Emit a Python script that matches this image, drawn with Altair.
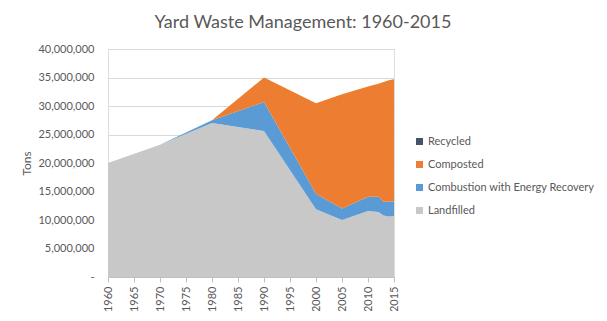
import altair as alt
import pandas as pd

years = [1960, 1970, 1980, 1990, 2000, 2005, 2010, 2012, 2013, 2014, 2015]
landfilled = [20000000, 23200000, 27000000, 25600000, 11900000, 10000000, 11600000, 11400000, 10800000, 10600000, 10700000]
combustion = [0, 0, 500000, 5100000, 2700000, 2000000, 2500000, 2700000, 2400000, 2600000, 2600000]
composted = [0, 0, 0, 4300000, 15900000, 20050000, 19300000, 19800000, 21000000, 21300000, 21400000]
recycled = [0, 0, 0, 0, 0, 0, 0, 0, 0, 0, 0]

series = ["Recycled", "Composted", "Combustion with Energy Recovery", "Landfilled"]
colors = ["#44546a", "#ed7d31", "#5b9bd5", "#c8c8c8"]
tick_years = [1960, 1965, 1970, 1975, 1980, 1985, 1990, 1995, 2000, 2005, 2010, 2015]

rows = []
for name, vals, idx in [("Landfilled", landfilled, 0), ("Combustion with Energy Recovery", combustion, 1),
                        ("Composted", composted, 2), ("Recycled", recycled, 3)]:
    for y, v in zip(years, vals):
        rows.append({"Year": y, "Series": name, "Tons": v, "idx": idx})
df = pd.DataFrame(rows)

FONT = "Lato"
GRAY = "#595959"

chart = alt.Chart(df).mark_area().encode(
    x=alt.X("Year:Q", scale=alt.Scale(domain=[1960, 2015], nice=False, zero=False),
            axis=alt.Axis(values=tick_years, format="d", title=None, labelAngle=-90,
                          labelAlign="right", labelBaseline="middle", labelPadding=4,
                          tickSize=5, tickColor="#bfbfbf", domainColor="#bfbfbf",
                          grid=False, labelColor=GRAY, labelFontSize=11, labelFont=FONT)),
    y=alt.Y("Tons:Q", stack="zero", scale=alt.Scale(domain=[0, 40000000], nice=False),
            axis=alt.Axis(values=[0, 5000000, 10000000, 15000000, 20000000, 25000000,
                                  30000000, 35000000, 40000000],
                          labelExpr="datum.value == 0 ? '-' : format(datum.value, ',')",
                          title="Tons", titleFont=FONT, titleFontSize=12, titleColor=GRAY,
                          titleFontWeight="normal", titlePadding=4,
                          domain=False, ticks=False, labelPadding=14, gridColor="#d9d9d9",
                          labelColor=GRAY, labelFontSize=11, labelFont=FONT)),
    color=alt.Color("Series:N", scale=alt.Scale(domain=series, range=colors),
                    legend=alt.Legend(title=None, orient="none", legendX=306, legendY=87,
                                      symbolType="square", symbolSize=49, symbolStrokeWidth=0,
                                      labelFont=FONT, labelFontSize=11, labelColor=GRAY,
                                      labelLimit=400,
                                      rowPadding=11, padding=0, labelOffset=3)),
    order=alt.Order("idx:Q", sort="ascending"),
).properties(
    width=286, height=228,
    title=alt.TitleParams("Yard Waste Management: 1960-2015", font=FONT, fontSize=18,
                          color=GRAY, fontWeight="normal", anchor="middle", dx=52, offset=11),
    padding={"left": 100, "top": 41, "right": 200, "bottom": 34},
    autosize=alt.AutoSizeParams(type="none"),
).configure_view(stroke=None).configure(background="white")

chart.save("out.html", embed_options={"renderer": "svg", "actions": False})
